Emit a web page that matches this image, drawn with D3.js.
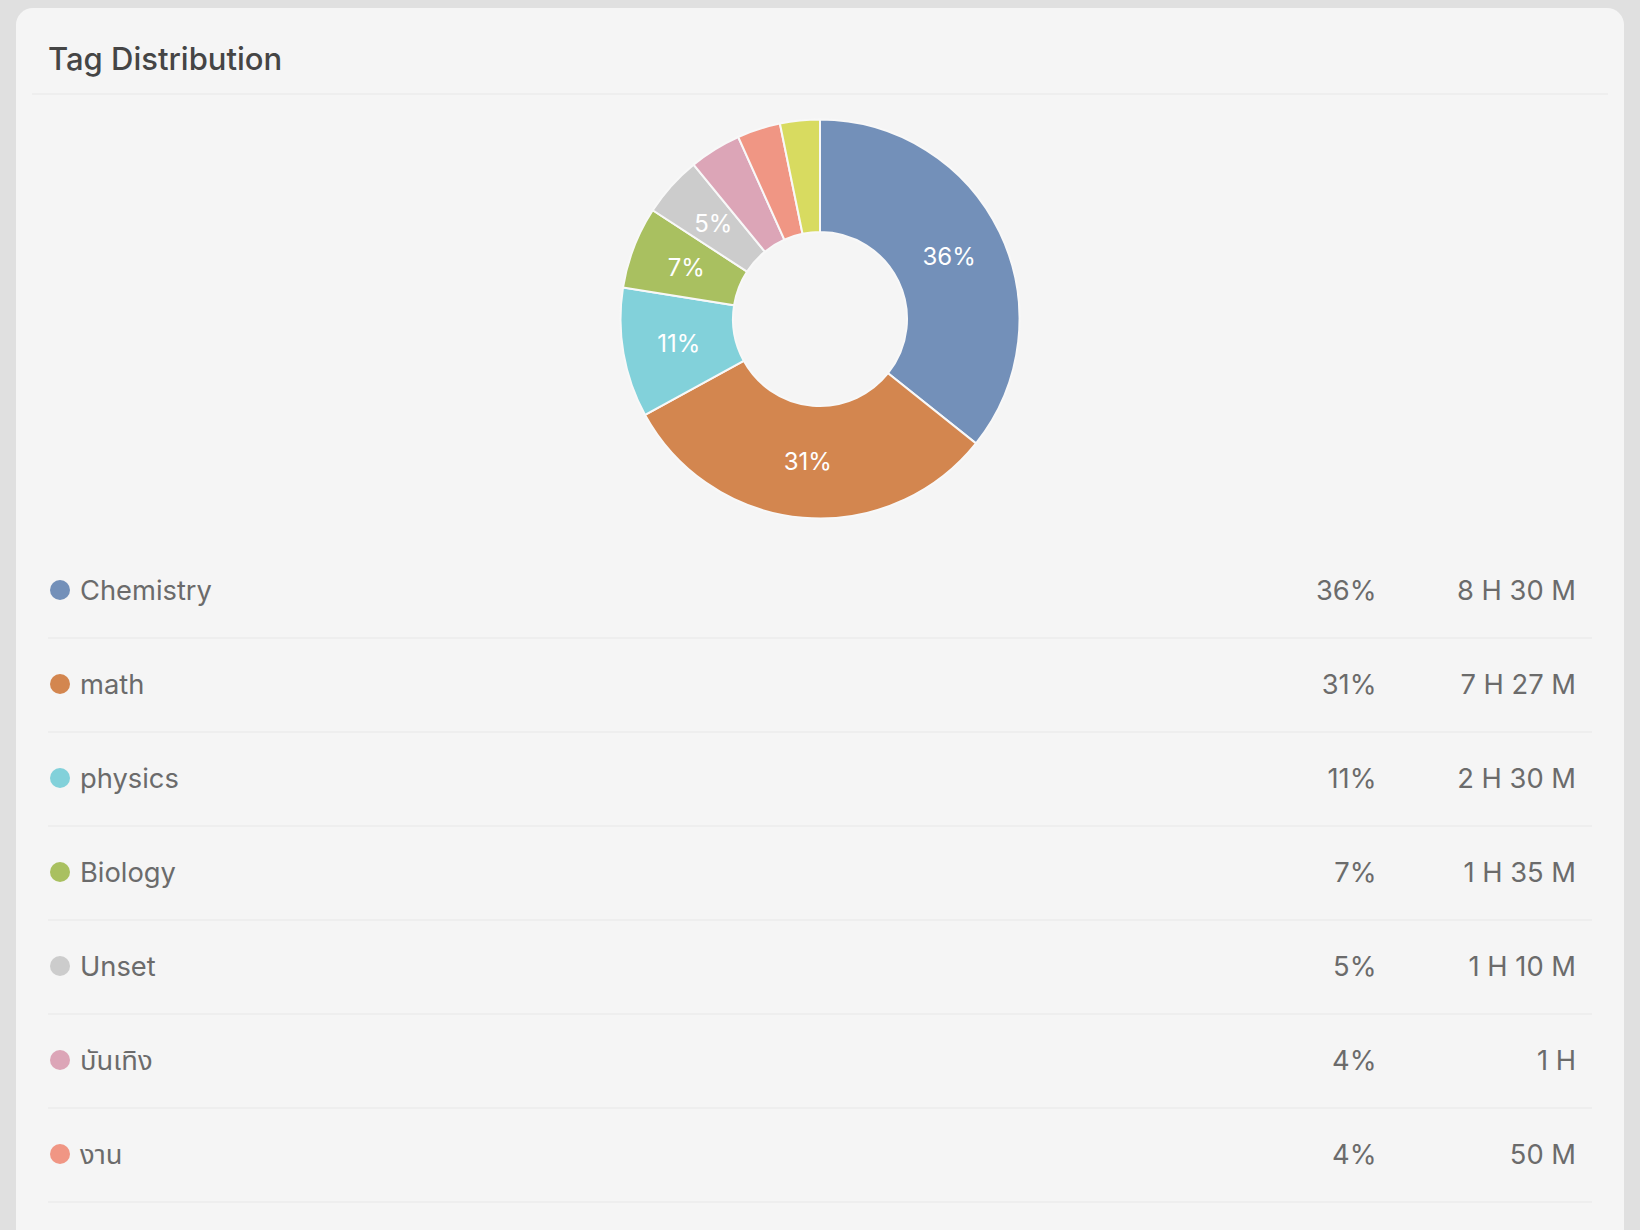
<!DOCTYPE html>
<html>
<head>
<meta charset="utf-8">
<title>Tag Distribution</title>
<script src="https://cdnjs.cloudflare.com/ajax/libs/d3/7.8.5/d3.min.js"></script>
<style>
    html, body { margin: 0; padding: 0; background: #e0e0e0; overflow: hidden; }
    text { font-family: "Inter", "Noto Sans", "Noto Sans Thai", sans-serif; }
</style>
</head>
<body>
<svg id="chart" width="1640" height="1230"></svg>
<script>
// slices, clockwise from 12 o'clock
const sliceMinutes = [510, 447, 150, 95, 70, 60, 50, 46];
const sliceLabels = ["36%", "31%", "11%", "7%", "5%", "", "", ""];
const sliceColors = ["#7390b9", "#d3864f", "#82d1da", "#a9c060", "#cccccc", "#dca5b7", "#f09684", "#d8db60"];

// list below the donut, the eighth tag is cut off by the screenshot
const tagNames = ["Chemistry", "math", "physics", "Biology", "Unset", "บันเทิง", "งาน"];
const tagPercents = ["36%", "31%", "11%", "7%", "5%", "4%", "4%"];
const tagDurations = ["8 H 30 M", "7 H 27 M", "2 H 30 M", "1 H 35 M", "1 H 10 M", "1 H", "50 M"];

const svg = d3.select("#chart");

svg.append("rect")
    .attr("x", 16)
    .attr("y", 8)
    .attr("width", 1608)
    .attr("height", 1240)
    .attr("rx", 17)
    .attr("fill", "#f5f5f5");

svg.append("text")
    .attr("x", 48)
    .attr("y", 70)
    .attr("font-size", 31)
    .attr("font-weight", 500)
    .attr("fill", "#454545")
    .text("Tag Distribution");

svg.append("line")
    .attr("x1", 32)
    .attr("x2", 1608)
    .attr("y1", 94)
    .attr("y2", 94)
    .attr("stroke", "#ebebeb")
    .attr("stroke-width", 1.5);

// donut
const pie = d3.pie().sort(null).value(d => d);
const arc = d3.arc().innerRadius(87).outerRadius(199.5);

const donut = svg.append("g")
    .attr("transform", "translate(820,319)");

const slices = pie(sliceMinutes);

donut.selectAll("path")
    .data(slices)
    .enter()
    .append("path")
    .attr("d", arc)
    .attr("fill", (d, i) => sliceColors[i])
    .attr("stroke", "#f8f8f8")
    .attr("stroke-width", 2);

donut.selectAll("text")
    .data(slices)
    .enter()
    .append("text")
    .attr("transform", d => `translate(${arc.centroid(d)})`)
    .attr("dy", ".35em")
    .attr("text-anchor", "middle")
    .attr("font-size", 24)
    .attr("fill", "#ffffff")
    .text((d, i) => sliceLabels[i]);

// rows
const rowScale = d3.scaleBand()
    .domain(tagNames)
    .range([544, 1202]);

const rows = svg.selectAll(".row")
    .data(tagNames)
    .enter()
    .append("g")
    .attr("class", "row")
    .attr("transform", d => `translate(0,${rowScale(d) + rowScale.bandwidth() / 2})`);

rows.append("circle")
    .attr("cx", 60)
    .attr("cy", -1)
    .attr("r", 10)
    .attr("fill", (d, i) => sliceColors[i]);

rows.append("line")
    .attr("x1", 48)
    .attr("x2", 1592)
    .attr("y1", rowScale.bandwidth() / 2)
    .attr("y2", rowScale.bandwidth() / 2)
    .attr("stroke", "#ebebeb")
    .attr("stroke-width", 1.5);

rows.append("text")
    .attr("x", 80)
    .attr("y", -1)
    .attr("dy", ".35em")
    .attr("font-size", 27.3)
    .attr("fill", "#6b6b6b")
    .text(d => d);

rows.append("text")
    .attr("x", 1376.5)
    .attr("y", -1)
    .attr("dy", ".35em")
    .attr("text-anchor", "end")
    .attr("font-size", 27.3)
    .attr("fill", "#6b6b6b")
    .text((d, i) => tagPercents[i]);

rows.append("text")
    .attr("x", 1576)
    .attr("y", -1)
    .attr("dy", ".35em")
    .attr("text-anchor", "end")
    .attr("font-size", 27.3)
    .attr("fill", "#6b6b6b")
    .text((d, i) => tagDurations[i]);
</script>
</body>
</html>
